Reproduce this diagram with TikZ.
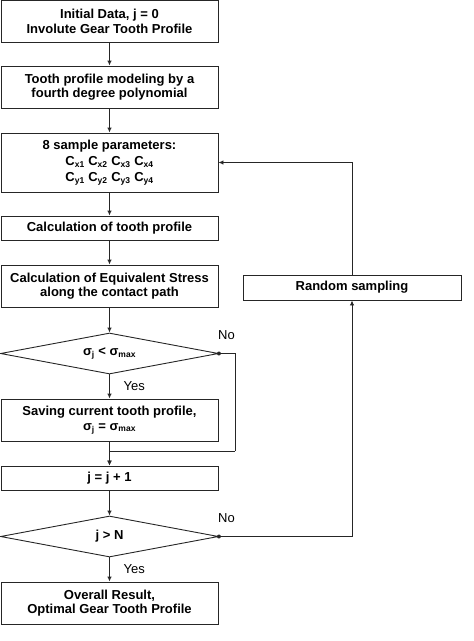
\documentclass[tikz,border=0pt]{standalone}
\usepackage{fontspec}
\setmainfont{Liberation Sans}
\usetikzlibrary{shapes.geometric,arrows.meta}
\newcommand{\sbx}[1]{\textsubscript{\fontsize{8.5}{9}\selectfont #1}}
\begin{document}
\begin{tikzpicture}[x=1pt,y=-1pt,
  every node/.style={font=\fontsize{13}{14.5}\selectfont},
  box/.style={draw=black!85,line width=0.9pt,minimum width=217pt,inner sep=0pt,align=center,font=\fontsize{13}{14.5}\selectfont\bfseries},
  dia/.style={draw=black!85,line width=0.9pt,shape=diamond,aspect=5.3,minimum width=218pt,minimum height=41pt,inner sep=0pt,font=\fontsize{13}{14.5}\selectfont\bfseries},
  arr/.style={draw=black!85,line width=0.9pt,-{Latex[length=5pt,width=4.5pt]}},
  ln/.style={draw=black!85,line width=0.9pt},
  lab/.style={inner sep=0pt,anchor=west,font=\fontsize{13}{14.5}\selectfont}]
\useasboundingbox (0,0) rectangle (474,641);
\node[box,minimum height=41.5pt] (b1) at (109.5,21.25) {Initial Data, j = 0\\Involute Gear Tooth Profile};
\node[box,minimum height=42pt] (b2) at (109.5,87) {Tooth profile modeling by a\\fourth degree polynomial};
\node[box,minimum height=59pt,font=\fontsize{13}{16}\selectfont\bfseries] (b3) at (109.5,162.5) {8 sample parameters:\\C\sbx{x1} C\sbx{x2} C\sbx{x3} C\sbx{x4}\\C\sbx{y1} C\sbx{y2} C\sbx{y3} C\sbx{y4}};
\node[box,minimum height=24pt] (b4) at (109.5,228) {Calculation of tooth profile};
\node[box,minimum height=42pt] (b5) at (109.5,286) {Calculation of Equivalent Stress\\along the contact path};
\node[dia] (d1) at (109.5,353.5) {σ\sbx{j} < σ\sbx{max}};
\node[box,minimum height=42pt] (b6) at (109.5,420) {Saving current tooth profile,\\σ\sbx{j} = σ\sbx{max}};
\node[box,minimum height=24pt] (b7) at (109.5,478) {j = j + 1};
\node[dia] (d2) at (109.5,536.5) {j > N};
\node[box,minimum height=42pt] (b8) at (109.5,603) {Overall Result,\\Optimal Gear Tooth Profile};
\node[box,minimum width=218pt,minimum height=25pt] (rs) at (352,287.5) {Random sampling};
\draw[arr] (b1) -- (b2);
\draw[arr] (b2) -- (b3);
\draw[arr] (b3) -- (b4);
\draw[arr] (b4) -- (b5);
\draw[arr] (b5) -- (d1);
\draw[arr] (d1) -- (b6);
\draw[arr] (b6) -- (b7);
\draw[arr] (b7) -- (d2);
\draw[arr] (d2) -- (b8);
\coordinate (n1) at (235,451);
\draw[ln] (d1.east) -| (n1);
\draw[arr] (n1) -| (b7.north);
\draw[arr] (d2.east) -| (rs.south);
\draw[arr] (rs.north) |- (b3.east);
\fill[black!85] (d1.east) circle (2pt);
\fill[black!85] (d2.east) circle (2pt);
\node[lab] (no1) at (218,335) {No};
\node[lab] (no2) at (218,518) {No};
\node[lab] (y1) at (123.5,386) {Yes};
\node[lab] (y2) at (123.5,569) {Yes};
\end{tikzpicture}
\end{document}
